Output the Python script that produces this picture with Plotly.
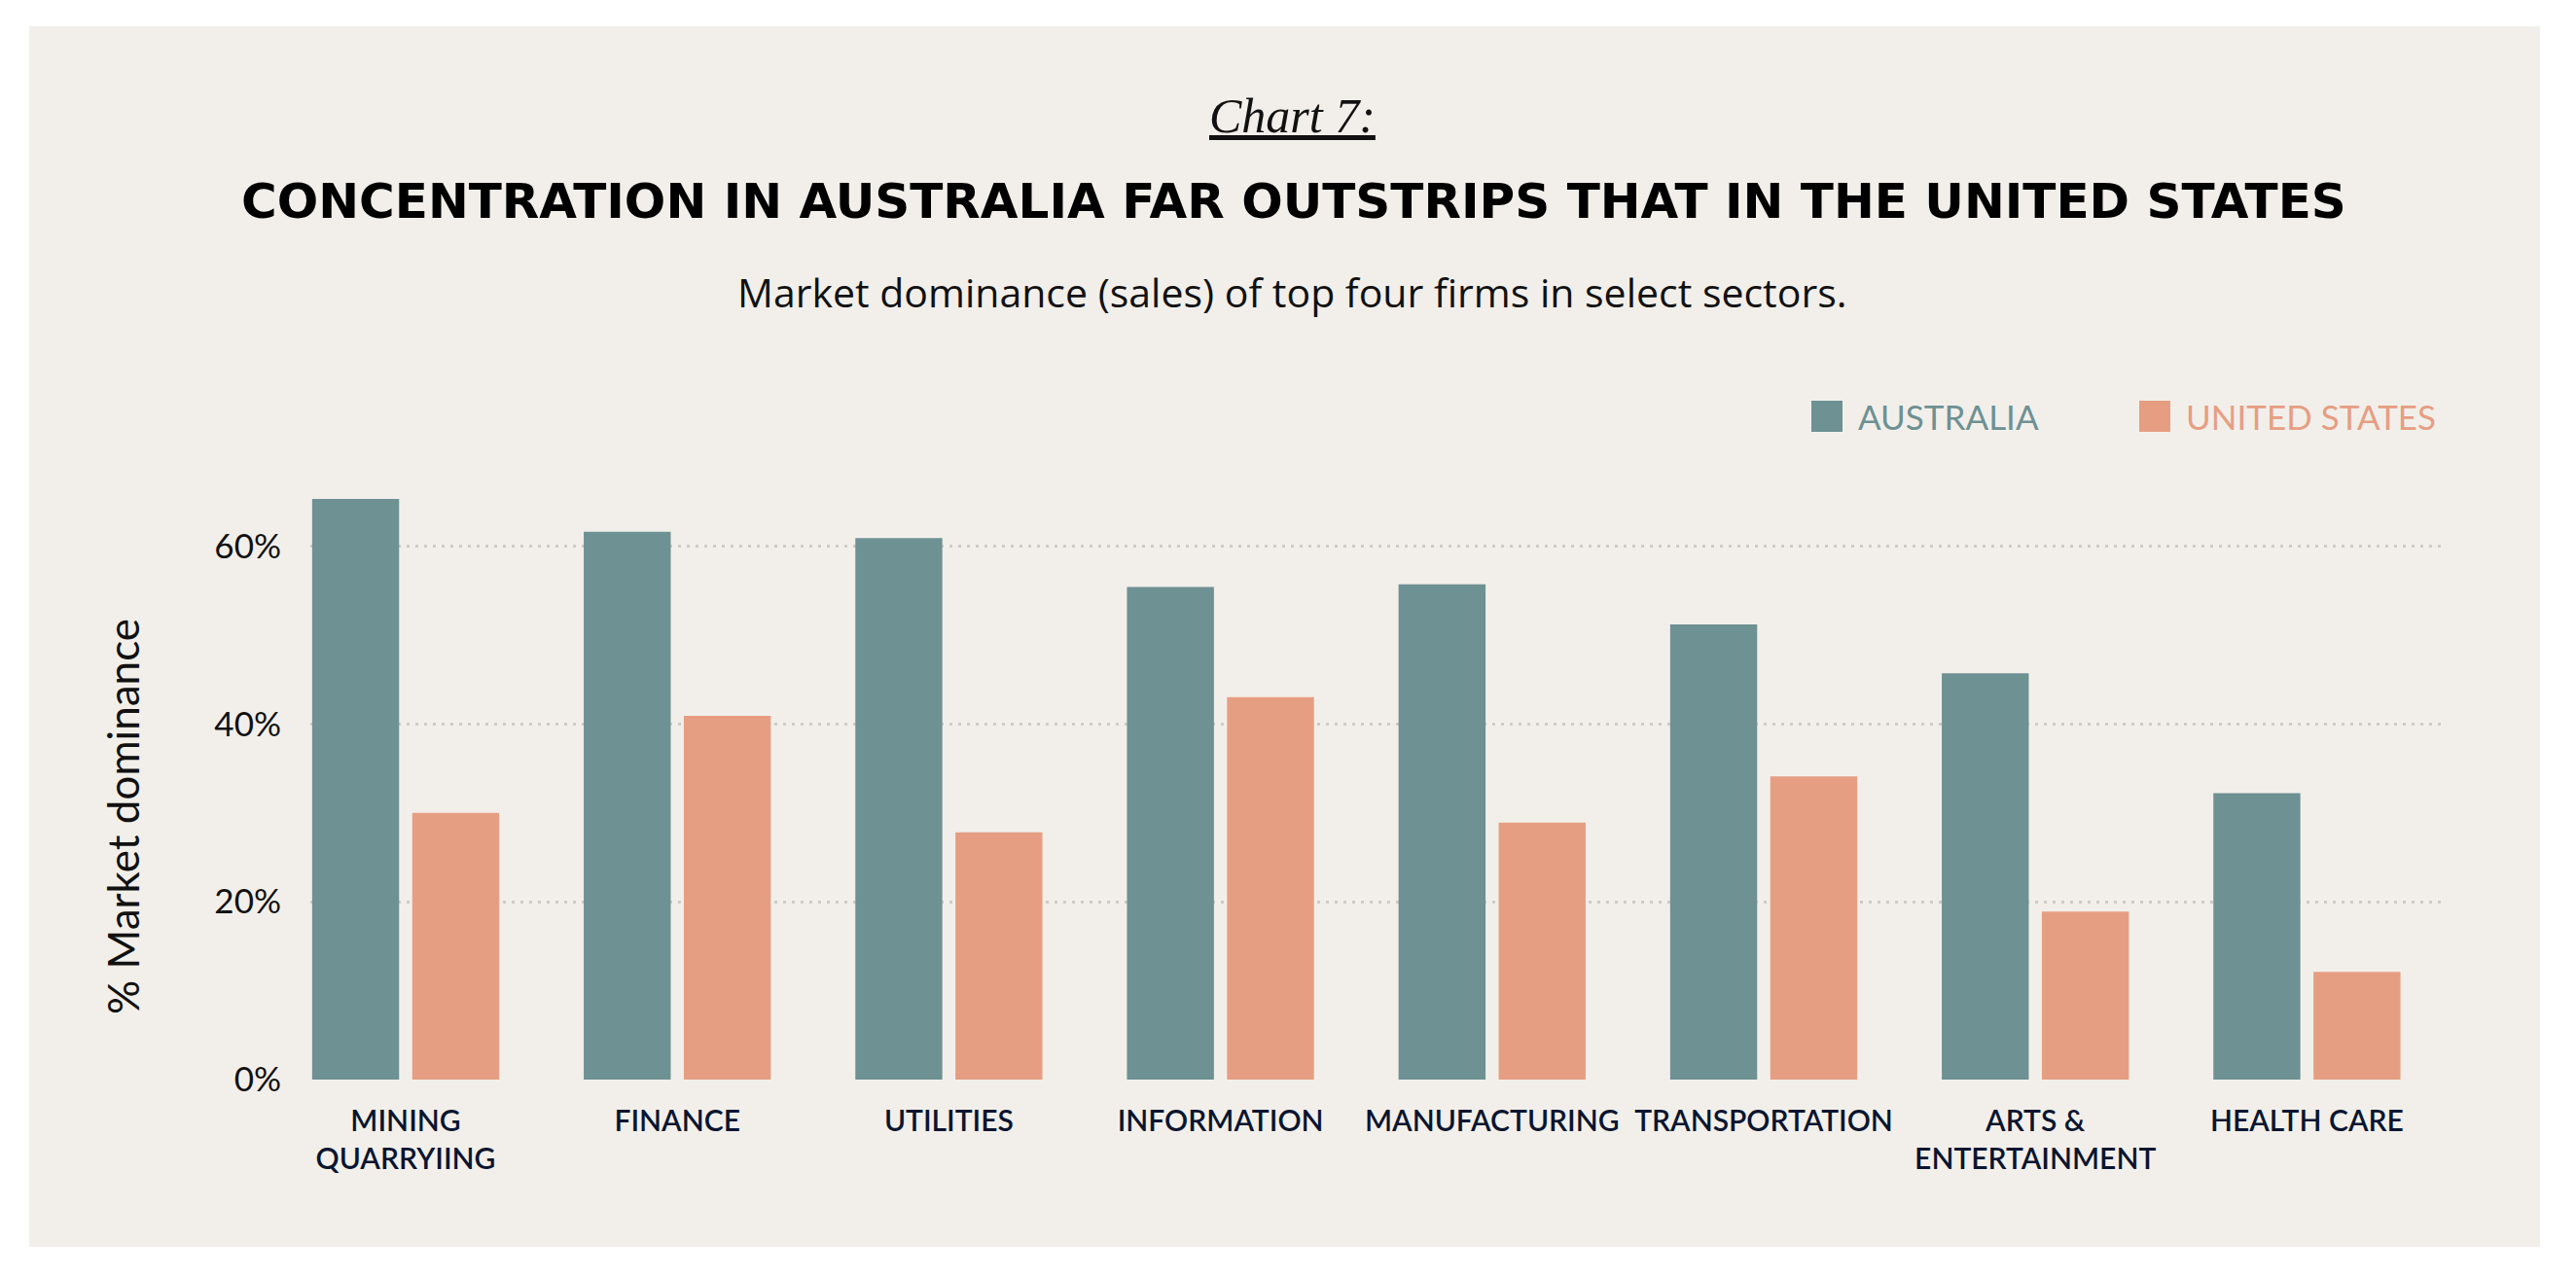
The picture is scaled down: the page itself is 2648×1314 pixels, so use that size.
import plotly.graph_objects as go

# ---------------- data ----------------
sectors = ["MINING QUARRYIING", "FINANCE", "UTILITIES", "INFORMATION",
           "MANUFACTURING", "TRANSPORTATION", "ARTS & ENTERTAINMENT", "HEALTH CARE"]
sector_labels = ["MINING<br>QUARRYIING", "FINANCE", "UTILITIES", "INFORMATION",
                 "MANUFACTURING", "TRANSPORTATION", "ARTS &<br>ENTERTAINMENT", "HEALTH CARE"]
australia = [65.3, 61.6, 60.9, 55.4, 55.7, 51.2, 45.7, 32.2]
united_states = [30.0, 40.9, 27.8, 43.0, 28.9, 34.1, 18.9, 12.1]
y_ticks = [0, 20, 40, 60]
y_tick_labels = ["0%", "20%", "40%", "60%"]
series_names = ["AUSTRALIA", "UNITED STATES"]

# ---------------- style ----------------
AU_COLOR = "#6e9193"
US_COLOR = "#e69e82"
PANEL = "#f2efea"
GRID = "#cfcbc6"
LABEL_NAVY = "#0a1530"

W, H = 2648, 1314
L, R, T, B = 319, 2511, 470, 1110


def px_x(X):
    return (X - L) / (R - L)


def px_y(Y):
    return (B - Y) / (B - T)


fig = go.Figure()
fig.add_trace(go.Bar(x=sectors, y=australia, name=series_names[0],
                     marker=dict(color=AU_COLOR, line=dict(width=0))))
fig.add_trace(go.Bar(x=sectors, y=united_states, name=series_names[1],
                     marker=dict(color=US_COLOR, line=dict(width=0))))

shapes = [
    # panel background
    dict(type="rect", xref="paper", yref="paper",
         x0=px_x(30), x1=px_x(2611), y0=px_y(1282), y1=px_y(27),
         fillcolor=PANEL, line=dict(width=0), layer="below"),
    # legend swatches
    dict(type="rect", xref="paper", yref="paper",
         x0=px_x(1862), x1=px_x(1894), y0=px_y(444), y1=px_y(412),
         fillcolor=AU_COLOR, line=dict(width=0)),
    dict(type="rect", xref="paper", yref="paper",
         x0=px_x(2199), x1=px_x(2231), y0=px_y(444), y1=px_y(412),
         fillcolor=US_COLOR, line=dict(width=0)),
]

annotations = [
    dict(text="Chart 7:", x=px_x(1328), y=px_y(119), xref="paper", yref="paper",
         xanchor="center", yanchor="middle", showarrow=False,
         font=dict(family="Liberation Serif", size=50, color="#111111",
                   style="italic", lineposition="under")),
    dict(text="CONCENTRATION IN AUSTRALIA FAR OUTSTRIPS THAT IN THE UNITED STATES",
         x=px_x(1330), y=px_y(207), xref="paper", yref="paper",
         xanchor="center", yanchor="middle", showarrow=False,
         font=dict(family="DejaVu Sans", size=50, color="#000000", weight="bold")),
    dict(text="Market dominance (sales) of top four firms in select sectors.",
         x=px_x(1328), y=px_y(300), xref="paper", yref="paper",
         xanchor="center", yanchor="middle", showarrow=False,
         font=dict(family="Open Sans", size=41, color="#111111")),
    dict(text="% Market dominance", x=px_x(126), y=px_y(840), xref="paper", yref="paper",
         xanchor="center", yanchor="middle", showarrow=False, textangle=-90,
         font=dict(family="Lato", size=44, color="#111111")),
    dict(text=series_names[0], x=px_x(1908), y=px_y(428), xref="paper", yref="paper",
         xanchor="left", yanchor="middle", showarrow=False,
         font=dict(family="Lato", size=35, color=AU_COLOR)),
    dict(text=series_names[1], x=px_x(2245), y=px_y(428), xref="paper", yref="paper",
         xanchor="left", yanchor="middle", showarrow=False,
         font=dict(family="Lato", size=35, color=US_COLOR)),
]

fig.update_layout(
    width=W, height=H,
    margin=dict(l=L, r=W - R, t=T, b=H - B, pad=0),
    paper_bgcolor="white",
    plot_bgcolor="rgba(0,0,0,0)",
    barmode="group",
    bargap=0.263,
    bargroupgap=0.131,
    showlegend=False,
    shapes=shapes,
    annotations=annotations,
    font=dict(family="Lato", color="#111111"),
    xaxis=dict(
        type="category",
        range=[-0.351, 7.5],
        tickmode="array", tickvals=sectors, ticktext=sector_labels,
        tickfont=dict(family="Lato", size=30, color=LABEL_NAVY, weight=600),
        showgrid=False, showline=False, zeroline=False, ticks="",
        ticklabelstandoff=22,
        fixedrange=True,
    ),
    yaxis=dict(
        range=[0, 70],
        tickmode="array", tickvals=y_ticks, ticktext=y_tick_labels,
        tickfont=dict(family="Lato", size=35, color="#111111"),
        showgrid=True, gridcolor=GRID, gridwidth=3, griddash="3px,6px",
        zeroline=False, showline=False, ticks="",
        ticklabelstandoff=29,
        fixedrange=True,
    ),
)

fig.write_html("out.html")
